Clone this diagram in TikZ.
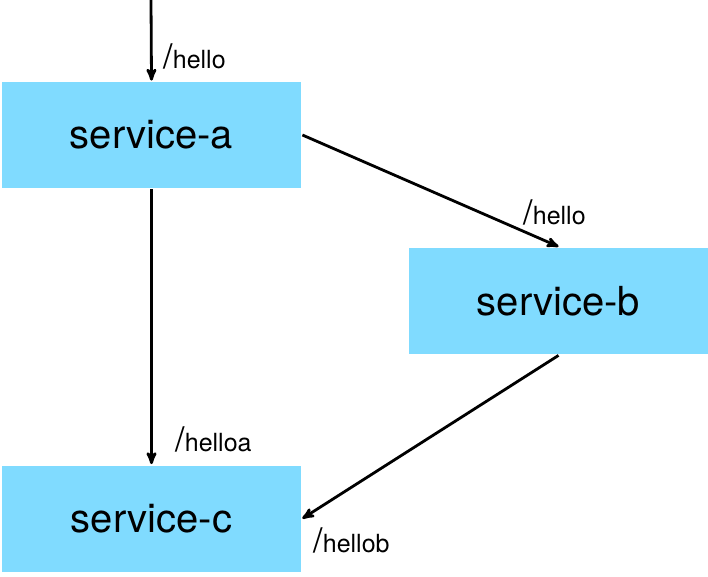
\documentclass[tikz,border=0pt]{standalone}
\usepackage{fontspec}
\setmainfont{TeX Gyre Heros}
\usetikzlibrary{arrows}
\definecolor{boxblue}{HTML}{80DBFF}
\newcommand{\route}[1]{{\fontsize{34}{36}\selectfont/}{\fontsize{25}{28}\selectfont #1}}
\begin{document}
\begin{tikzpicture}[x=1pt, y=-1pt, ->, >=stealth', line width=2.8pt]
  \tikzset{svc/.style={rectangle, fill=boxblue, minimum width=299pt, minimum height=106pt, inner sep=0pt, font=\fontsize{40}{42}\selectfont}}
  \tikzset{lbl/.style={anchor=west, inner sep=0pt}}
  \useasboundingbox (0,0) rectangle (708,577);

	\node[svc] (A) at (151.5,135) {service-a};
	\node[svc] (B) at (558.5,301) {service-b};
	\node[svc] (C) at (151.5,518.5) {service-c};
	\coordinate (In) at (151,0);

	\draw (In) -- (A.north);
	\draw (A.east) -- (B.north);
	\draw (A.south) -- (C.north);
	\draw (B.south) -- (C.east);

	\node[lbl] (L1) at (162,56) {\route{hello}};
	\node[lbl] (L2) at (522,212) {\route{hello}};
	\node[lbl] (L3) at (174,439) {\route{helloa}};
	\node[lbl] (L4) at (312,540) {\route{hellob}};

\end{tikzpicture}
\end{document}
